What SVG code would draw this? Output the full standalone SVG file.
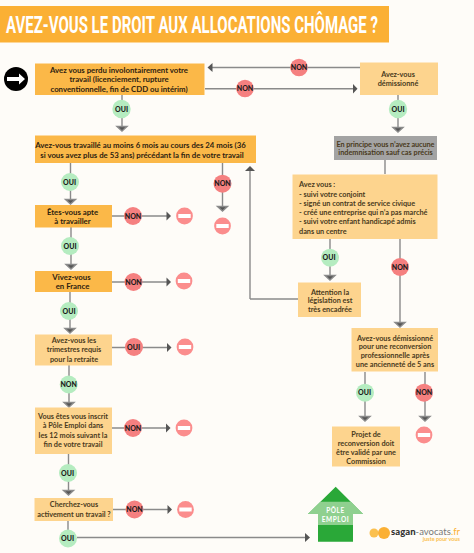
<svg xmlns="http://www.w3.org/2000/svg" width="474" height="553" viewBox="0 0 474 553">
<style>
text{font-family:"Lato","Noto Sans","Liberation Sans",sans-serif;font-size:7.3px;font-weight:700;fill:#4a3a20;text-anchor:middle}
.d{fill:#fbb848}.l{fill:#fdd48e}.g{fill:#a3a3a3}
.t{font-size:7.8px;fill:#2e2210}
.c{font-size:7px;font-weight:900;fill:#1b1b1b}
.y{fill:#b5ecc0}.n{fill:#f58080}
.ln{stroke:#8a8a8a;stroke-width:1.4;fill:none}
.s{fill:#fb8d8d}.b{fill:#fff}
.le{text-anchor:start}
</style>
<defs>
<path id="hd" d="M-5-4.5H5L0 0Z" fill="#555"/>
<g id="stop"><circle r="8.4" class="s"/><rect x="-6.2" y="-2" width="12.4" height="4" class="b"/></g>
</defs>
<rect width="474" height="553" fill="#fefcf8"/>
<g id="title"><rect y="6" width="389" height="36.500" fill="#fbb034"/>
<text transform="translate(6 33) scale(.68 1)" textLength="547" lengthAdjust="spacingAndGlyphs" style="font-family:'Roboto','Liberation Sans',sans-serif;font-size:24px;font-weight:700;fill:#fff;text-anchor:start">AVEZ-VOUS LE DROIT AUX ALLOCATIONS CHÔMAGE ?</text></g>
<g id="connectors" class="ln">
<path d="M360 67.500H210M205 88.700H355M122 95V127M398 95V129M70.500 163V201M222.500 163V207M385 160V174M250 299H298M250 299V169M330 239V276M400 239V323M112 216H167M112 282H167M112 347.500H167M112 428H167M113 509.500H168M71 227V264M70 292V330M69 365V403M68.500 454V491M68 521V530M77 537.500H306M365 372V417M425 372V417"/>
<g stroke="none" fill="#555">
<path d="M207.500 67.500L212.500 63V72Z"/><path d="M357.500 88.700L353 84V93.500Z"/><path d="M250 166L245 171H255Z"/>
<path d="M171 216L166.500 211.500V220.500Z"/><path d="M171 282L166.500 277.500V286.500Z"/><path d="M171.500 347.500L167 343V352Z"/><path d="M170.500 428L166 423.500V432.500Z"/><path d="M172 509.500L167.500 505V514Z"/><path d="M310 537.500L305 533V542Z"/>
</g>
<use href="#hd" x="122" y="131"/><use href="#hd" x="398" y="132"/><use href="#hd" x="70.500" y="204"/><use href="#hd" x="222.500" y="211"/><use href="#hd" x="71" y="269"/><use href="#hd" x="70" y="333"/><use href="#hd" x="69" y="407"/><use href="#hd" x="68.500" y="495"/><use href="#hd" x="330" y="280"/><use href="#hd" x="400" y="327"/><use href="#hd" x="365" y="421"/><use href="#hd" x="425" y="421"/>
</g>
<g id="start"><circle cx="16" cy="79" r="12" fill="#000"/><path d="M7 77H19V73.500L25 79L19 84.500V81H7Z" fill="#fff"/></g>
<g id="n1"><rect class="d" x="35" y="63.500" width="169.500" height="31.500"/><text class="t" x="119" y="72.500">Avez vous perdu involontairement votre</text><text class="t" x="119" y="82">travail (licenciement, rupture</text><text class="t" x="119" y="91.500">conventionnelle, fin de CDD ou intérim)</text></g>
<g id="n2"><rect class="l" x="360" y="62.500" width="78" height="32.500"/><text x="398" y="77">Avez-vous</text><text x="398" y="86">démissionné</text></g>
<g id="n3"><rect class="d" x="35" y="135.500" width="221" height="27.500"/><text class="t" x="140.500" y="148">Avez-vous travaillé au moins 6 mois au cours des 24 mois (36</text><text class="t" x="142" y="157.500">si vous avez plus de 53 ans) précédant la fin de votre travail</text></g>
<g id="n4"><rect class="g" x="334" y="136" width="103" height="24"/><text x="385.500" y="146.500" textLength="98">En principe vous n’avez aucune</text><text x="385.500" y="155">indemnisation sauf cas précis</text></g>
<g id="n5"><rect class="l" x="292.500" y="174.500" width="145" height="64.500"/>
<text class="le" x="299" y="187">Avez vous :</text><text class="le" x="299" y="196.500">- suivi votre conjoint</text><text class="le" x="299" y="205.500">- signé un contrat de service civique</text><text class="le" x="299" y="215">- créé une entreprise qui n’a pas marché</text><text class="le" x="299" y="224">- suivi votre enfant handicapé admis</text><text class="le" x="299" y="233.500">dans un centre</text></g>
<g id="n6"><rect class="d" x="35" y="205" width="77" height="22.500"/><text class="t" x="72.500" y="214.500">Êtes-vous apte</text><text class="t" x="72.500" y="223.500">à travailler</text></g>
<g id="n7"><rect class="d" x="35" y="271" width="77" height="21"/><text class="t" x="71.500" y="279.500">Vivez-vous</text><text class="t" x="72.500" y="289">en France</text></g>
<g id="n8"><rect class="l" x="35" y="334.500" width="77" height="31"/><text x="74" y="343">Avez-vous les</text><text x="74" y="352">trimestres requis</text><text x="74" y="361.500">pour la retraite</text></g>
<g id="n9"><rect class="l" x="35" y="407.500" width="77" height="46.500"/><text x="73" y="419">Vous êtes vous inscrit</text><text x="73" y="428">à Pôle Emploi dans</text><text x="73" y="437.500">les 12 mois suivant la</text><text x="73" y="447">fin de votre travail</text></g>
<g id="n10"><rect class="l" x="34.500" y="498" width="78.500" height="23"/><text x="74" y="507">Cherchez-vous</text><text x="74" y="516.500">activement un travail ?</text></g>
<g id="n11"><rect class="l" x="298" y="282.500" width="63" height="34.500"/><text x="330" y="294.500">Attention la</text><text x="330" y="303">législation est</text><text x="330" y="312">très encadrée</text></g>
<g id="n12"><rect class="l" x="351.500" y="328" width="86.500" height="43.500"/><text x="395" y="340.500">Avez-vous démissionné</text><text x="395" y="349">pour une reconversion</text><text x="395" y="358">professionnelle après</text><text x="395" y="367">une ancienneté de 5 ans</text></g>
<g id="n13"><rect class="l" x="332" y="426.500" width="68" height="40"/><text x="366" y="436.500">Projet de</text><text x="366" y="445.500">reconversion doit</text><text x="366" y="454.500">être validé par  une</text><text x="366" y="463.500">Commission</text></g>
<g id="pole"><path d="M335.700 486.700L363 514H353V541.700H318V514H308Z" fill="#2aa838"/><path d="M320.500 501.700H351L363 514H353V525H318V514H308Z" fill="#8fd08f"/><text x="335.500" y="512.500" style="fill:#fff;font-size:6.500px;letter-spacing:.5px">PÔLE</text><text x="335.500" y="522" style="fill:#fff;font-size:6.500px;letter-spacing:.5px">EMPLOI</text></g>
<g id="logo"><circle cx="374" cy="533" r="4.500" fill="#fbc04f"/><circle cx="384" cy="533" r="6" fill="#fbb034"/><text x="391" y="535" textLength="69" style="font-size:9.500px;font-weight:900;text-anchor:start;fill:#333">sagan<tspan style="font-weight:400;fill:#777">-avocats</tspan><tspan style="font-weight:400;fill:#fbb034">.fr</tspan></text><text x="460" y="541" style="font-size:5.500px;font-weight:700;text-anchor:end;fill:#fbc04f">juste pour vous</text></g>
<g id="badges">
<g id="b1"><circle cx="299" cy="67.500" r="8.800" class="n"/><text class="c" x="299" y="70">NON</text></g>
<g id="b2"><circle cx="245" cy="88.500" r="8.800" class="n"/><text class="c" x="245" y="91">NON</text></g>
<g id="b3"><circle cx="121.500" cy="109" r="9.200" class="y"/><text class="c" x="121.500" y="111.500">OUI</text></g>
<g id="b4"><circle cx="398" cy="109" r="9.200" class="y"/><text class="c" x="398" y="111.500">OUI</text></g>
<g id="b5"><circle cx="70" cy="182" r="9" class="y"/><text class="c" x="69.500" y="184.500">OUI</text></g>
<g id="b6"><circle cx="222.500" cy="183.700" r="9" class="n"/><text class="c" x="222.500" y="186.200">NON</text></g>
<g id="b7"><circle cx="133" cy="216" r="9" class="n"/><text class="c" x="133" y="218.500">NON</text></g>
<g id="b8"><circle cx="70" cy="246" r="9" class="y"/><text class="c" x="70" y="248.500">OUI</text></g>
<g id="b9"><circle cx="133.500" cy="282" r="9" class="n"/><text class="c" x="133.500" y="284.500">NON</text></g>
<g id="b10"><circle cx="69" cy="311" r="9" class="y"/><text class="c" x="69" y="313.500">OUI</text></g>
<g id="b11"><circle cx="134" cy="347" r="9" class="n"/><text class="c" x="133.500" y="349.500">OUI</text></g>
<g id="b12"><circle cx="68.700" cy="384.500" r="9" class="y"/><text class="c" x="68.700" y="387">NON</text></g>
<g id="b13"><circle cx="133" cy="428" r="9" class="n"/><text class="c" x="133" y="430.500">NON</text></g>
<g id="b14"><circle cx="68" cy="473" r="9" class="y"/><text class="c" x="67.500" y="475.500">OUI</text></g>
<g id="b15"><circle cx="134.500" cy="509.500" r="9" class="n"/><text class="c" x="134.500" y="512">NON</text></g>
<g id="b16"><circle cx="68" cy="538.500" r="9" class="y"/><text class="c" x="67.500" y="541">OUI</text></g>
<g id="b17"><circle cx="330" cy="257.700" r="9" class="y"/><text class="c" x="329" y="260.200">OUI</text></g>
<g id="b18"><circle cx="400" cy="267" r="9" class="n"/><text class="c" x="400" y="269.500">NON</text></g>
<g id="b19"><circle cx="365" cy="392.700" r="9" class="y"/><text class="c" x="364.500" y="395.200">OUI</text></g>
<g id="b20"><circle cx="424" cy="392.700" r="9" class="n"/><text class="c" x="424" y="395.200">NON</text></g>
</g>
<g id="stops"><use href="#stop" x="184.500" y="216"/><use href="#stop" x="222.500" y="226"/><use href="#stop" x="184" y="281"/><use href="#stop" x="185" y="347"/><use href="#stop" x="184" y="428"/><use href="#stop" x="185.500" y="509.500"/><use href="#stop" x="424" y="435"/></g>
</svg>
